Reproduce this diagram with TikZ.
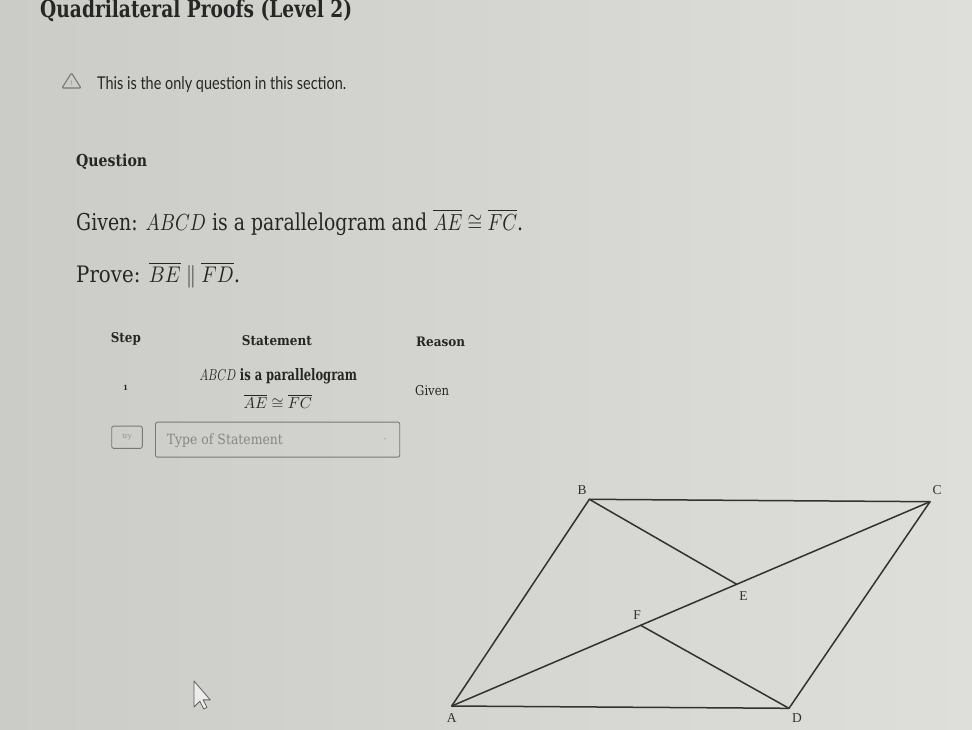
\documentclass[tikz,border=0pt]{standalone}
\usepackage{fontspec}
\usepackage{graphicx}
\setmainfont{DejaVu Serif}
\newfontfamily\latofont{Lato}
\newfontfamily\figfont{Liberation Serif}
\newcommand{\fitw}[3]{\resizebox{#1pt}{#2pt}{#3}}
\definecolor{ink}{RGB}{38,38,36}
\definecolor{softink}{RGB}{50,50,48}
\definecolor{boxgray}{RGB}{120,120,118}
\definecolor{hint}{RGB}{135,135,132}
\definecolor{bgleft}{RGB}{203,203,199}
\definecolor{bgright}{RGB}{222,222,219}
\begin{document}
\begin{tikzpicture}[x=1pt,y=-1pt,
  txt/.style={anchor=base west, inner sep=0pt, text=ink},
  edgeline/.style={draw=softink, line width=1.5pt, line join=round, line cap=round},
  ptlbl/.style={inner sep=0pt, text=softink, font=\figfont\fontsize{13.5}{15}\selectfont},
  uibox/.style={draw=boxgray, line width=0.9pt, rounded corners=2pt, inner sep=0pt}]
\useasboundingbox (0,0) rectangle (972,729);
\fill[left color=bgleft, right color=bgright] (0,0) rectangle (972,729);

% header
\node[txt] (title) at (40,17) {\fitw{312}{18}{\bfseries Quadrilateral Proofs (Level 2)}};
\draw[boxgray, line width=1.1pt, line join=round, rounded corners=1pt] (62,88) -- (71.5,73) -- (81,88) -- cycle;
\node[inner sep=0pt, text=boxgray, font=\fontsize{6}{6}\selectfont] (warn) at (71.5,83) {!};
\node[txt] (note) at (97,89) {\fitw{249}{13}{\latofont This is the only question in this section.}};

% question
\node[txt] (qhead) at (76,166) {\fitw{71}{12.5}{\bfseries Question}};
\node[txt] (given) at (76,230) {\fitw{447}{20.5}{Given: $ABCD$ is a parallelogram and $\overline{AE}\cong\overline{FC}$.}};
\node[txt] (prove) at (76,282) {\fitw{164}{20}{Prove: $\overline{BE}\parallel\overline{FD}$.}};

% table
\node[txt] (hstep) at (110.7,342.7) {\fitw{30}{10}{\bfseries Step}};
\node[txt] (hstmt) at (241.7,345) {\fitw{70}{10}{\bfseries Statement}};
\node[txt] (hreason) at (416,346.7) {\fitw{49}{9.5}{\bfseries Reason}};
\node[txt] (s1a) at (199.3,380) {\fitw{157.4}{12}{$ABCD$ \bfseries is a parallelogram}};
\node[txt] (s1b) at (243.3,408.3) {\fitw{68.4}{14}{$\overline{AE}\cong\overline{FC}$}};
\node[txt, font=\bfseries\fontsize{7}{8}\selectfont] (n1) at (123,390.7) {1};
\node[txt] (r1) at (415,395) {\fitw{34}{10}{Given}};

\node[uibox, minimum width=30.6pt, minimum height=22.3pt, text=hint,
      font=\fontsize{6.5}{7}\selectfont] (trybox) at (127,437.2) {try};
\node[uibox, anchor=north west, minimum width=244.3pt, minimum height=35pt] (stmtbox) at (155,421.7) {};
\node[txt, text=hint] (hintxt) at (166.7,444) {\fitw{116}{10.7}{Type of Statement}};
\node[inner sep=0pt, text=hint, font=\fontsize{8}{8}\selectfont] (dash) at (385,440) {-};

% figure
\coordinate (A) at (451.7,706);
\coordinate (B) at (589.3,499.3);
\coordinate (C) at (930,501.7);
\coordinate (D) at (789,708.3);
\coordinate (E) at (736.7,584.3);
\coordinate (F) at (640.7,625.3);
\draw[edgeline] (A) -- (B) -- (C) -- (D) -- cycle;
\draw[edgeline] (A) -- (C);
\draw[edgeline] (B) -- (E);
\draw[edgeline] (F) -- (D);
\node[ptlbl] (lA) at (451.7,718.5) {A};
\node[ptlbl] (lB) at (582,490.5) {B};
\node[ptlbl] (lC) at (937,490) {C};
\node[ptlbl] (lD) at (797,718.5) {D};
\node[ptlbl] (lE) at (743.5,596.5) {E};
\node[ptlbl] (lF) at (637,615.5) {F};

% mouse pointer
\draw[boxgray!80!black, fill=white!85!gray, line width=0.8pt, line join=round, shift={(194,681)}, scale=1.3]
  (0,0) -- (0,20) -- (4.5,15.5) -- (7.5,21.5) -- (10,20.3) -- (7,14.5) -- (12.5,14.5) -- cycle;
\end{tikzpicture}
\end{document}
